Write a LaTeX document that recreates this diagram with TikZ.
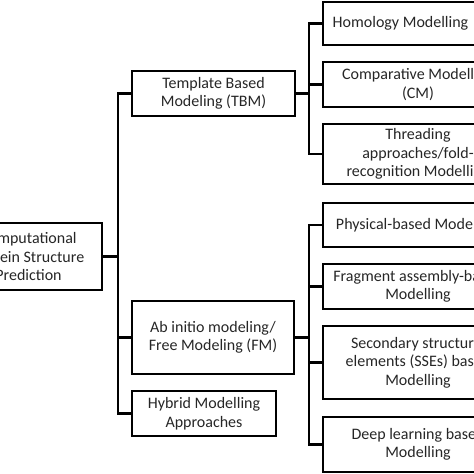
\documentclass[tikz,border=0pt]{standalone}
\usepackage{fontspec}
\setmainfont{Carlito}
\begin{document}
\begin{tikzpicture}[x=1pt,y=-1pt,
  box/.style={draw=black,line width=2.6pt,align=center,inner sep=0pt,
    font=\fontsize{16}{18.5}\selectfont,text=black!85},
  link/.style={draw=black,line width=2.6pt,line cap=rect}]
\useasboundingbox (0,0) rectangle (474,474);
\clip (0,0) rectangle (474,474);
% root and second level
\node[box,minimum width=147pt,minimum height=67pt] (root) at (28.5,256.5)
  {Computational\\Protein Structure\\Prediction};
\node[box,minimum width=163pt,minimum height=45pt] (tbm) at (213.5,93.5)
  {Template Based\\Modeling (TBM)};
\node[box,minimum width=162pt,minimum height=73pt] (fm) at (213,337.5)
  {Ab initio modeling/\\Free Modeling (FM)};
\node[box,minimum width=144pt,minimum height=45pt] (hyb) at (204,413.5)
  {Hybrid Modelling\\Approaches};
% TBM children
\node[box,minimum width=155pt,minimum height=43pt] (hom) at (400.5,23.5)
  {Homology Modelling};
\node[box,minimum width=190pt,minimum height=45pt] (cm) at (418,84.5)
  {Comparative Modelling\\(CM)};
\node[box,minimum width=190pt,minimum height=60pt] (thr) at (418,154)
  {Threading\\approaches/fold-\\recognition Modelling};
% FM children
\node[box,minimum width=190pt,minimum height=44pt] (phy) at (418,225)
  {Physical-based Modelling};
\node[box,minimum width=190pt,minimum height=45pt] (frag) at (418,286.5)
  {Fragment assembly-based\\Modelling};
\node[box,minimum width=190pt,minimum height=73pt] (sse) at (418,362.5)
  {Secondary structural\\elements (SSEs) based\\Modelling};
\node[box,minimum width=190pt,minimum height=55pt] (deep) at (418,444.5)
  {Deep learning based\\Modelling};
% junction coordinates
\coordinate (spine) at (118,0);
\coordinate (tspine) at (309,0);
% connectors level 1
\draw[link] (root.east) -- (root.east -| spine);
\draw[link] (tbm.west -| spine) -- (hyb.west -| spine);
\draw[link] (tbm.west) -- (tbm.west -| spine);
\draw[link] (fm.west) -- (fm.west -| spine);
\draw[link] (hyb.west) -- (hyb.west -| spine);
% connectors TBM
\draw[link] (tbm.east) -- (tbm.east -| tspine);
\draw[link] (hom.west -| tspine) -- (thr.west -| tspine);
\draw[link] (hom.west) -- (hom.west -| tspine);
\draw[link] (cm.west) -- (cm.west -| tspine);
\draw[link] (thr.west) -- (thr.west -| tspine);
% connectors FM
\draw[link] (fm.east) -- (fm.east -| tspine);
\draw[link] (phy.west -| tspine) -- (deep.west -| tspine);
\draw[link] (phy.west) -- (phy.west -| tspine);
\draw[link] (frag.west) -- (frag.west -| tspine);
\draw[link] (sse.west) -- (sse.west -| tspine);
\draw[link] (deep.west) -- (deep.west -| tspine);
\end{tikzpicture}
\end{document}
